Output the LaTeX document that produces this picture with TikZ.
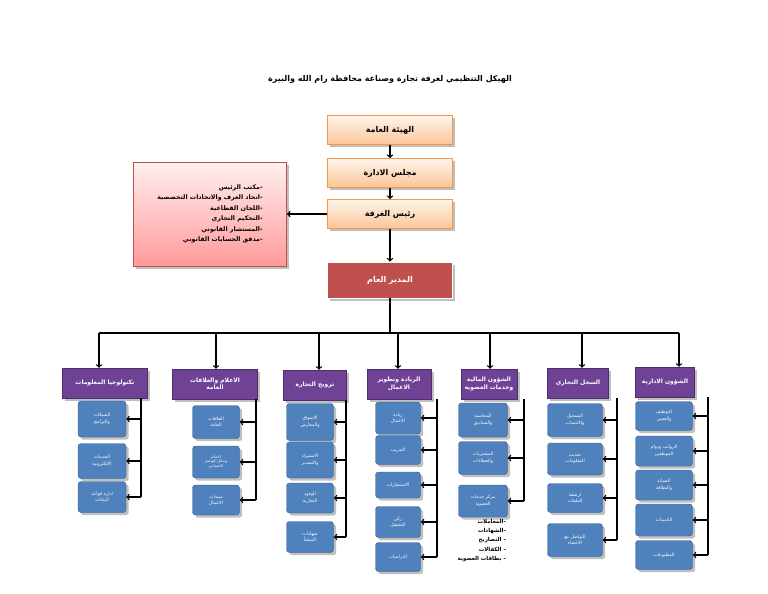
\documentclass[tikz,border=0pt]{standalone}
\usepackage{fontspec}
\setmainfont{DejaVu Sans}[Script=Arabic]
\usetikzlibrary{positioning,shadows}
\TeXXeTstate=1
\newcommand\artxt[1]{\beginR#1\endR}
\definecolor{boxBlue}{RGB}{79,129,189}
\definecolor{edgeBlue}{RGB}{56,93,138}
\definecolor{deptPurple}{RGB}{112,66,150}
\definecolor{topOrange}{RGB}{247,150,70}
\definecolor{dirRed}{RGB}{192,80,77}
\tikzset{
  toplevel/.style={draw=topOrange, thick, top color=orange!8, bottom color=topOrange!55,
    minimum width=125pt, minimum height=29pt, font=\fontsize{8}{9}\selectfont\bfseries, drop shadow},
  dept/.style={fill=deptPurple, draw=deptPurple!70!black, text=white, align=center,
    minimum height=30pt, font=\fontsize{6}{7.5}\selectfont\bfseries, drop shadow},
  unit/.style={fill=boxBlue, draw=edgeBlue, text=white, rounded corners=3pt, align=center,
    minimum width=48pt, font=\fontsize{4.6}{6.5}\selectfont, drop shadow},
  link/.style={line width=1.3pt, ->},
  trunk/.style={line width=1.3pt}
}
\begin{document}
\begin{tikzpicture}[x=1pt,y=-1pt]
\useasboundingbox (0,0) rectangle (768,594);
\node[font=\fontsize{8}{9}\selectfont\bfseries] (title) at (390,79)
  {\artxt{الهيكل التنظيمي لغرفة تجارة وصناعة محافظة رام الله والبيرة}};

% top of the chart
\node[toplevel] (assembly) at (390,130) {\artxt{الهيئة العامة}};
\node[toplevel] (board) at (390,173) {\artxt{مجلس الادارة}};
\node[toplevel] (chairman) at (390,214) {\artxt{رئيس الغرفة}};
\node[fill=dirRed, draw=white, thick, text=white, minimum width=125pt, minimum height=36pt,
  font=\fontsize{8}{9}\selectfont\bfseries, drop shadow] (director) at (390,280) {\artxt{المدير العام}};
\node[draw=dirRed, thick, top color=red!6, bottom color=red!40, minimum width=153pt, minimum height=104pt,
  align=right, font=\fontsize{6.3}{10.5}\selectfont\bfseries, drop shadow] (office) at (210,214)
  {\artxt{-مكتب الرئيس}\\\artxt{-اتحاد الغرف والاتحادات التخصصية}\\\artxt{-اللجان القطاعية}\\
   \artxt{-التحكيم التجاري}\\\artxt{-المستشار القانوني}\\\artxt{-مدقق الحسابات القانوني}};

\draw[link] (assembly) -- (board);
\draw[link] (board) -- (chairman);
\draw[link] (chairman) -- (director);
\draw[link] (chairman.west) -- (office.east);

% departments
\node[dept, minimum width=85pt] (itDept) at (105,383) {\artxt{تكنولوجيا المعلومات}};
\node[dept, minimum width=85pt] (mediaDept) at (215,384) {\artxt{الاعلام والعلاقات}\\\artxt{العامة}};
\node[dept, minimum width=63pt] (tradeDept) at (315,385) {\artxt{ترويج التجارة}};
\node[dept, minimum width=64pt] (bizDept) at (399,384) {\artxt{الريادة وتطوير}\\\artxt{الاعمال}};
\node[dept, minimum width=56pt] (financeDept) at (489,384) {\artxt{الشؤون المالية}\\\artxt{وخدمات العضوية}};
\node[dept, minimum width=61pt] (registryDept) at (578,383) {\artxt{السجل التجاري}};
\node[dept, minimum width=59pt] (adminDept) at (665,382) {\artxt{الشؤون الادارية}};

\coordinate (bus) at (390,333);
\coordinate (busLeft) at (99,333);
\coordinate (busRight) at (679,333);
\draw[trunk] (director) -- (bus);
\draw[trunk] (busLeft) -- (busRight);
\foreach \d/\xx in {itDept/99, mediaDept/216, tradeDept/319, bizDept/398, financeDept/490, registryDept/582, adminDept/679}
  \draw[link] (\xx,333) -- (\d.north -| \xx,0);

% units
\node[unit, minimum height=36pt] (network) at (102,419) {\artxt{الشبكات}\\\artxt{والبرامج}};
\node[unit, minimum height=35pt] (eServices) at (102,461) {\artxt{الخدمات}\\\artxt{الالكترونية}};
\node[unit, minimum height=31pt] (database) at (102,497) {\artxt{ادارة قواعد}\\\artxt{البيانات}};

\node[unit, minimum width=47pt, minimum height=33pt] (publicRel) at (216,422) {\artxt{العلاقات}\\\artxt{العامة}};
\node[unit, minimum width=47pt, minimum height=32pt, font=\fontsize{3.6}{4.6}\selectfont] (socialMedia) at (216,462)
  {\artxt{الاعلام}\\\artxt{وسائل التواصل}\\\artxt{الاجتماعي}};
\node[unit, minimum width=47pt, minimum height=30pt] (women) at (216,500) {\artxt{سيدات}\\\artxt{الاعمال}};

\node[unit, minimum width=47pt, minimum height=37pt] (markets) at (310,422) {\artxt{الاسواق}\\\artxt{والمعارض}};
\node[unit, minimum width=47pt, minimum height=36pt] (importExport) at (310,460) {\artxt{الاستيراد}\\\artxt{والتصدير}};
\node[unit, minimum width=47pt, minimum height=30pt] (delegations) at (310,498) {\artxt{الوفود}\\\artxt{التجارية}};
\node[unit, minimum width=47pt, minimum height=31pt] (origin) at (310,537) {\artxt{شهادات}\\\artxt{المنشأ}};

\node[unit, minimum width=45pt, minimum height=32pt] (entrepreneur) at (398,418) {\artxt{ريادة}\\\artxt{الاعمال}};
\node[unit, minimum width=45pt, minimum height=29pt] (training) at (398,450) {\artxt{التدريب}};
\node[unit, minimum width=45pt, minimum height=26pt] (consulting) at (398,485) {\artxt{الاستشارات}};
\node[unit, minimum width=45pt, minimum height=31pt] (employment) at (398,522) {\artxt{ركن}\\\artxt{التشغيل}};
\node[unit, minimum width=45pt, minimum height=29pt] (studies) at (398,557) {\artxt{الدراسات}};

\node[unit, minimum width=49pt, minimum height=34pt] (accounting) at (483,420) {\artxt{المحاسبة}\\\artxt{والصناديق}};
\node[unit, minimum width=49pt, minimum height=33pt] (purchasing) at (483,458) {\artxt{المشتريات}\\\artxt{والعطاءات}};
\node[unit, minimum width=49pt, minimum height=32pt] (membership) at (483,501) {\artxt{مركز خدمات}\\\artxt{العضوية}};
\node[anchor=north east, align=right, inner sep=0pt, font=\fontsize{5.5}{9.3}\selectfont\bfseries] (memberList) at (506,519)
  {\artxt{-المعاملات}\\\artxt{-الشهادات}\\\artxt{- التصاريح}\\\artxt{- الكفالات}\\\artxt{- بطاقات العضوية}};

\node[unit, minimum width=55pt, minimum height=33pt] (registration) at (575,420) {\artxt{التسجيل}\\\artxt{والانتساب}};
\node[unit, minimum width=55pt, minimum height=32pt] (update) at (575,459) {\artxt{تحديث}\\\artxt{المعلومات}};
\node[unit, minimum width=55pt, minimum height=29pt] (archive) at (575,498) {\artxt{ارشفة}\\\artxt{الملفات}};
\node[unit, minimum width=55pt, minimum height=33pt] (members) at (575,540) {\artxt{التواصل مع}\\\artxt{الاعضاء}};

\node[unit, minimum width=57pt, minimum height=29pt] (hiring) at (664,416) {\artxt{التوظيف}\\\artxt{والتعيين}};
\node[unit, minimum width=57pt, minimum height=30pt] (salaries) at (664,451) {\artxt{الرواتب ودوام}\\\artxt{الموظفين}};
\node[unit, minimum width=57pt, minimum height=30pt] (cleaning) at (664,485) {\artxt{الصيانة}\\\artxt{والنظافة}};
\node[unit, minimum width=57pt, minimum height=32pt] (insurance) at (664,520) {\artxt{التامينات}};
\node[unit, minimum width=57pt, minimum height=29pt] (prints) at (664,555) {\artxt{المطبوعات}};

% column trunks and arrows
\foreach \d/\xx/\last/\units in {
  itDept/141/database/{network,eServices,database},
  mediaDept/256/women/{publicRel,socialMedia,women},
  tradeDept/346/origin/{markets,importExport,delegations,origin},
  bizDept/437/studies/{entrepreneur,training,consulting,employment,studies},
  financeDept/524/membership/{accounting,purchasing,membership},
  registryDept/617/members/{registration,update,archive,members},
  adminDept/708/prints/{hiring,salaries,cleaning,insurance,prints}} {
  \draw[trunk] (\d.south -| \xx,0) -- (\last.east -| \xx,0);
  \foreach \u in \units
    \draw[link] (\u.east -| \xx,0) -- (\u.east);
}
\end{tikzpicture}
\end{document}
